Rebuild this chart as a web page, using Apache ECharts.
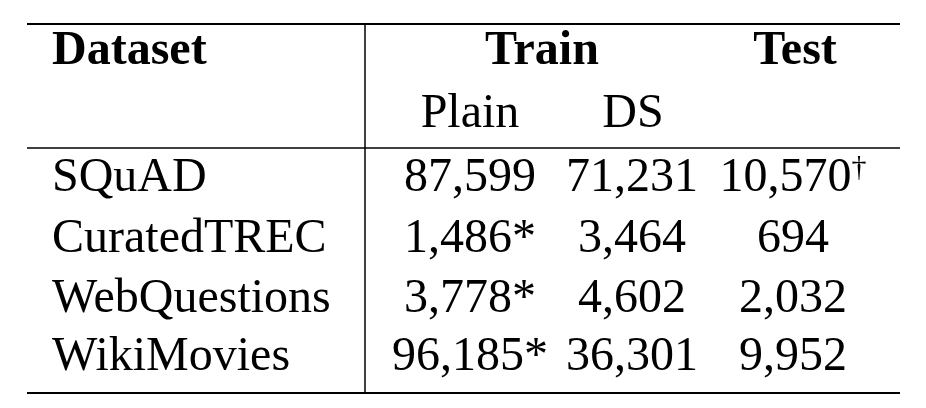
<!DOCTYPE html>
<html><head><meta charset="utf-8">
<script src="https://cdn.jsdelivr.net/npm/echarts@6/dist/echarts.min.js"></script>
<style>html,body{margin:0;padding:0;background:#fff}#c{width:926px;height:408px}</style>
</head><body><div id="c"></div>
<script>
const datasets = ["SQuAD", "CuratedTREC", "WebQuestions", "WikiMovies"];
const trainPlain = ["87,599", "1,486*", "3,778*", "96,185*"];
const trainDS = ["71,231", "3,464", "4,602", "36,301"];
const test = ["10,570†", "694", "2,032", "9,952"];

const F = '"Liberation Serif","DejaVu Serif",serif';
const fs = 48;
const rowY = [178, 239, 299, 357];
const colX = [470, 632, 793];
const els = [];
function txt(x, y, s, align, bold) {
  let rich = null, str = s;
  if (s.endsWith('†')) { str = s.slice(0, -1) + '{sup|†}'; rich = {sup: {fontSize: 30, fontFamily: F, verticalAlign: 'top', padding: [0,0,20,0], fill: '#000'}}; }
  const style = {text: str, x, y, fontSize: fs, fontFamily: F, fontWeight: bold ? 'bold' : 'normal', fill: '#000', align, verticalAlign: 'middle'};
  if (rich) style.rich = rich;
  els.push({type: 'text', style});
}
function line(x1, y1, x2, y2, w) {
  els.push({type: 'line', shape: {x1, y1, x2, y2}, style: {stroke: '#000', lineWidth: w}});
}
line(27, 24, 900, 24, 2);
line(27, 148, 900, 148, 1.5);
line(27, 393, 900, 393, 2);
line(365, 24, 365, 393, 1.5);
txt(52, 52, "Dataset", 'left', true);
txt(542, 52, "Train", 'center', true);
txt(795, 52, "Test", 'center', true);
txt(470, 114, "Plain", 'center', false);
txt(633, 114, "DS", 'center', false);
datasets.forEach((d, i) => {
  txt(52, rowY[i], d, 'left', false);
  txt(colX[0], rowY[i], trainPlain[i], 'center', false);
  txt(colX[1], rowY[i], trainDS[i], 'center', false);
  txt(colX[2], rowY[i], test[i], 'center', false);
});
const chart = echarts.init(document.getElementById('c'));
chart.setOption({animation: false, graphic: {elements: els}});
</script></body></html>
